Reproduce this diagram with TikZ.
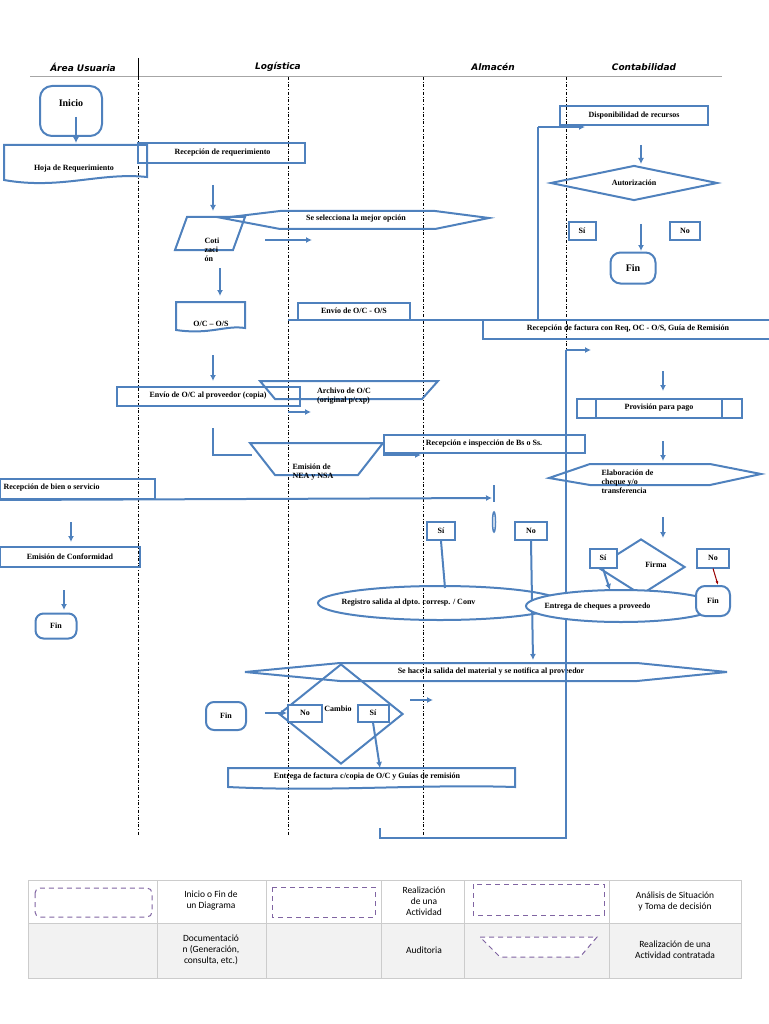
\documentclass[tikz,border=0pt]{standalone}
\usepackage{fontspec}
\setmainfont{Liberation Serif}
\newfontfamily\legfont{Carlito}
\newfontfamily\headfont{DejaVu Sans}
\usetikzlibrary{positioning,shapes.geometric,shapes.misc}
\definecolor{flow}{RGB}{79,129,189}
\definecolor{leg}{RGB}{128,100,162}
\tikzset{
  bx/.style={draw=flow,line width=2pt,inner sep=1pt,font=\fontsize{8}{8}\selectfont\bfseries},
  ar/.style={draw=flow,line width=2pt,-{Latex[length=6pt,width=6pt]}},
  ln/.style={draw=flow,line width=2pt},
  lane/.style={black,dash dot,line width=0.6pt},
  lbl/.style={font=\fontsize{8}{9}\selectfont\bfseries,align=left},
  hd/.style={font=\headfont\fontsize{9}{9}\selectfont\bfseries\itshape},
  lg/.style={font=\legfont\fontsize{9.5}{11}\selectfont,align=center},
  lgs/.style={draw=leg,dashed,line width=1pt,dash pattern=on 5pt off 4pt}
}
\usetikzlibrary{arrows.meta}
\begin{document}
\begin{tikzpicture}[x=1pt,y=-1pt]
\useasboundingbox (0,0) rectangle (768,1024);
% cabecera
\draw[gray!70,line width=1pt] (30,77)--(722,77);
\draw[black,line width=0.8pt] (138,58)--(138,77);
\node[hd] (hA) at (83,67) {Área Usuaria};
\node[hd] (hL) at (278,67) {Logística};
\node[hd] (hM) at (493,67) {Almacén};
\node[hd] (hC) at (644,67) {Contabilidad};
\foreach \x in {138,288,423,566} \draw[lane] (\x,77)--(\x,835);

% area usuaria
\node[bx,rounded corners=12pt,minimum width=62pt,minimum height=50pt,font=\fontsize{10}{10}\selectfont\bfseries,anchor=north] (inicio) at (71,85) {};
\node[lbl,font=\fontsize{10}{10}\selectfont\bfseries] (tinicio) at (71,103) {Inicio};
\draw[ln] (4,145)--(147,145)--(147,177) .. controls (100,172) and (60,190) .. (4,180)--cycle;
\node[lbl] (hoja) at (74,169) {Hoja de Requerimiento};
\coordinate (a1) at (76,117);
\draw[ar] (a1)--(76,143);
\node[bx,minimum width=155pt,minimum height=20pt] (bien) at (77,489) {};
\node[lbl,anchor=west] (tbien) at (0,488) {Recepción de bien o servicio};
\coordinate (a2) at (71,522); \coordinate (a2b) at (71,542);
\draw[ar] (a2)--(a2b);
\node[bx,minimum width=140pt,minimum height=20pt] (conf) at (70,557) {Emisión de Conformidad};
\coordinate (a3) at (64,590); \coordinate (a3b) at (64,610);
\draw[ar] (a3)--(a3b);
\node[bx,rounded corners=8pt,minimum width=41pt,minimum height=25pt] (fin1) at (56,626) {Fin};

% logistica
\node[bx,minimum width=167pt,minimum height=20pt,anchor=west,fill=white,fill opacity=0,text opacity=1] (recreq) at (137,153) {\hspace{2pt}Recepción de requerimiento\hfill};
\coordinate (b1) at (213,185); \draw[ar] (b1)--(213,211);
\draw[ln] (187,217)--(245,217)--(233,250)--(175,250)--cycle;
\node[lbl] (coti) at (212,250) {Coti\\zaci\\ón};
\draw[ln] (222,218)--(280,211)--(435,211)--(489,218)--(435,229)--(280,229)--cycle;
\node[lbl] (mejor) at (356,219) {Se selecciona la mejor opción};
\coordinate (b2) at (265,240); \coordinate (b2b) at (312,240);
\draw[ar] (b2)--(b2b);
\coordinate (b3) at (220,268); \draw[ar] (b3)--(220,296);
\draw[ln] (176,302)--(245,302)--(245,328) .. controls (225,325) and (210,335) .. (176,330)--cycle;
\node[lbl] (oc) at (211,324) {O/C -- O/S};
\node[bx,minimum width=112pt,minimum height=17pt] (envio) at (354,311) {Envío de O/C - O/S};
\node[bx,minimum width=290pt,minimum height=19pt,anchor=west] (recfac) at (482,329) {Recepción de factura con Req, OC - O/S, Guía de Remisión};
\draw[ln] (288,320)--(recfac.west|-288,320);
\coordinate (b4) at (213,355); \draw[ar] (b4)--(213,381);
\node[bx,minimum width=183pt,minimum height=19pt] (envprov) at (208,396) {Envío de O/C al proveedor (copia)};
\draw[ln] (260,381)--(438,381)--(422,399)--(275,399)--cycle;
\node[lbl] (archivo) at (344,396) {Archivo de O/C\\(original p/cxp)};
\coordinate (b5) at (288,412); \draw[ar] (b5)--(311,412);
\draw[ln] (213,428)--(213,455)--(252,455);
\draw[ln] (250,443)--(383,443)--(358,475)--(275,475)--cycle;
\node[lbl] (nea) at (313,472) {Emisión de\\NEA y NSA};
\node[bx,minimum width=201pt,minimum height=18pt] (recins) at (484,444) {Recepción e inspección de Bs o Ss.};
\coordinate (b6) at (383,455); \draw[ar] (b6)--(421,455);
\coordinate (c0) at (492,498);
\draw[ar] (bien.south west)--(c0);
\draw[ln] (494,485)--(494,502);
\node[ellipse,draw=flow,line width=1.5pt,minimum width=3pt,minimum height=20pt,inner sep=0pt] (sep) at (494,522) {};

% almacen
\node[bx,minimum width=28pt,minimum height=18pt] (si1) at (441,531) {Sí};
\node[bx,minimum width=32pt,minimum height=18pt] (no1) at (531,531) {No};
\node[bx,ellipse,minimum width=244pt,minimum height=34pt,anchor=west] (reg) at (317,603) {};
\node[lbl,anchor=west] (treg) at (338,603) {Registro salida al dpto. corresp. / Conv};
\draw[ln] (si1.south)--(445,588);
\coordinate (c1) at (533,660);
\draw[ar] (no1.south)--(c1);
\draw[ln] (245,672)--(340,663)--(637,663)--(727,672)--(637,681)--(340,681)--cycle;
\node[lbl] (salida) at (491,672) {Se hace la salida del material  y se  notifica al proveedor};
\node[diamond,draw=flow,line width=2pt,minimum width=124pt,minimum height=100pt,inner sep=0pt] (cambio) at (341,714) {};
\node[lbl] (tcambio) at (338,709) {Cambio};
\node[bx,fill=white,minimum width=34pt,minimum height=17pt] (no2) at (305,713) {No};
\node[bx,fill=white,minimum width=31pt,minimum height=17pt] (si2) at (373,713) {Sí};
\node[bx,rounded corners=8pt,minimum width=40pt,minimum height=28pt] (fin2) at (226,716) {Fin};
\coordinate (d1) at (265,713); \draw[ar] (d1)--(no2.west);
\coordinate (d2) at (410,700); \coordinate (d2b) at (433,700);
\draw[ar] (d2)--(d2b);
\draw[ar] (si2.south)--(380,768);
\draw[ln] (228,768)--(515,768)--(515,787) .. controls (420,784) and (330,792) .. (228,787)--cycle;
\node[lbl] (entfac) at (367,777) {Entrega de factura c/copia de O/C y Guías de remisión};
\coordinate (e1) at (380,828); \coordinate (e2) at (380,838); \coordinate (e3) at (566,838); \coordinate (e4) at (566,350);
\draw[ln] (e1)--(e2)--(e3)--(e4);
\coordinate (e5) at (591,350); \draw[ar] (e4)--(e5);

% contabilidad
\node[bx,minimum width=148pt,minimum height=19pt] (disp) at (634,116) {Disponibilidad de recursos};
\coordinate (f1) at (538,319); \coordinate (f2) at (538,127); \coordinate (f3) at (585,127);
\draw[ln] (f1)--(f2); \draw[ar] (f2)--(f3);
\coordinate (f4) at (641,145); \draw[ar] (f4)--(641,164);
\node[diamond,draw=flow,line width=2pt,aspect=4.8,minimum width=167pt,minimum height=35pt,inner sep=0pt] (autor) at (634,183) {};
\node[lbl] (tautor) at (634,183) {Autorización};
\node[bx,minimum width=27pt,minimum height=18pt] (si3) at (582,231) {Sí};
\node[bx,minimum width=30pt,minimum height=18pt] (no3) at (685,231) {No};
\coordinate (f5) at (641,224); \draw[ar] (f5)--(641,251);
\node[bx,rounded corners=10pt,minimum width=45pt,minimum height=31pt,font=\fontsize{10}{10}\selectfont\bfseries] (fin3) at (633,268) {Fin};
\coordinate (f6) at (663,371); \draw[ar] (f6)--(663,391);
\node[bx,minimum width=165pt,minimum height=19pt] (prov) at (659,408) {Provisión para pago};
\draw[ln] (596,398)--(596,418) (722,398)--(722,418);
\coordinate (f7) at (663,441); \draw[ar] (f7)--(663,461);
\draw[ln] (549,478)--(590,464)--(710,464)--(761,474)--(710,485)--(590,485)--cycle;
\node[lbl,anchor=north west] (elab) at (598,466) {Elaboración de\\cheque y/o\\transferencia};
\coordinate (f8) at (663,517); \draw[ar] (f8)--(663,538);
\node[diamond,draw=flow,line width=2pt,minimum width=88pt,minimum height=56pt,inner sep=0pt,aspect=1.6] (firma) at (641,567) {};
\node[lbl] (tfirma) at (656,565) {Firma};
\node[bx,fill=white,minimum width=27pt,minimum height=19pt] (si4) at (603,558) {Sí};
\node[bx,fill=white,minimum width=32pt,minimum height=19pt] (no4) at (713,558) {No};
\draw[ar] (si4.south)--(610,590);
\draw[-{Latex[length=4pt]},red!60!black,line width=1pt] (no4.south)--(718,585);
\node[bx,ellipse,fill=white,minimum width=190pt,minimum height=32pt] (cheq) at (621,606) {};
\node[lbl,anchor=west] (tcheq) at (541,607) {Entrega de cheques a proveedo};
\node[bx,fill=white,rounded corners=9pt,minimum width=34pt,minimum height=30pt] (fin4) at (713,601) {Fin};

% leyenda
\fill[gray!10] (28,923) rectangle (741,978);
\draw[gray!40,line width=0.8pt] (28,880) rectangle (741,978) (28,923)--(741,923);
\foreach \x in {157,266,381,464,609} \draw[gray!40,line width=0.8pt] (\x,880)--(\x,978);
\draw[lgs,rounded corners=5pt] (35,888) rectangle (152,917);
\draw[lgs] (272,887) rectangle (375,917);
\draw[lgs] (473,884) rectangle (604,915);
\draw[lgs,fill=white] (480,937)--(597,937)--(580,957)--(500,957)--cycle;
\node[lg] (l1) at (211,901) {Inicio o Fin de\\un Diagrama};
\node[lg] (l2) at (424,901) {Realización\\de una\\Actividad};
\node[lg] (l3) at (675,901) {Análisis de Situación\\y Toma de decisión};
\node[lg] (l4) at (211,950) {Documentació\\n (Generación,\\consulta, etc.)};
\node[lg] (l5) at (424,950) {Auditoria};
\node[lg] (l6) at (675,950) {Realización de una\\Actividad contratada};
\end{tikzpicture}
\end{document}
